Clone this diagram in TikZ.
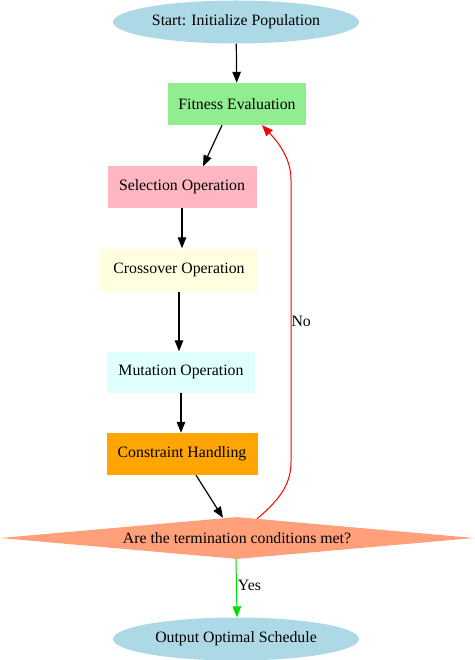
\documentclass[tikz,border=0pt]{standalone}
\usepackage{fontspec}
\setmainfont{Liberation Serif}
\usetikzlibrary{shapes.geometric,arrows.meta,calc}
\definecolor{lblue}{HTML}{ADD8E6}
\definecolor{lgreen}{HTML}{90EE90}
\definecolor{lpink}{HTML}{FFB6C1}
\definecolor{lyellow}{HTML}{FFFFE0}
\definecolor{lcyan}{HTML}{E0FFFF}
\definecolor{orng}{HTML}{FFA500}
\definecolor{lsalmon}{HTML}{FFA07A}
\definecolor{brgreen}{HTML}{00E000}
\begin{document}
\begin{tikzpicture}[x=1pt,y=-1pt,
  every node/.style={font=\fontsize{15.8}{19}\selectfont},
  termnode/.style={ellipse,fill=lblue,minimum width=246pt,minimum height=43pt,inner sep=0pt},
  procbox/.style={rectangle,minimum height=42pt,inner sep=0pt},
  edge/.style={draw=black,line width=1.2pt,-{Triangle[length=11pt,width=8.5pt]}},
  lbl/.style={inner sep=1pt,anchor=west}]
\useasboundingbox (0,0) rectangle (474,660);
\node[termnode] (start) at (236,22) {Start: Initialize Population};
\node[procbox,fill=lgreen,minimum width=138pt] (fit) at (237,104) {Fitness Evaluation};
\node[procbox,fill=lpink,minimum width=149pt,minimum height=41pt] (sel) at (182,187) {Selection Operation};
\node[procbox,fill=lyellow,minimum width=158pt,minimum height=43pt] (cro) at (179,270) {Crossover Operation};
\node[procbox,fill=lcyan,minimum width=148pt,minimum height=41pt] (mut) at (181,372) {Mutation Operation};
\node[procbox,fill=orng,minimum width=151pt] (con) at (182,454) {Constraint Handling};
\node[diamond,fill=lsalmon,shape aspect=11.3,minimum width=474pt,minimum height=42pt,inner sep=0pt] (dia) at (237,538) {Are the termination conditions met?};
\node[termnode] (out) at (236,639) {Output Optimal Schedule};

\draw[edge] (start) -- (fit);
\draw[edge] ($(fit.south)+(-15,0)$) -- ($(sel.north)+(21,0)$);
\draw[edge] (sel) -- (sel.south |- cro.north);
\draw[edge] (cro.south) -- (cro.south |- mut.north);
\draw[edge] (mut.south) -- (mut.south |- con.north);
\draw[edge] ($(con.south)+(14,0)$) -- ($(dia.north)+(-14,1)$);
\draw[edge,draw=brgreen,line width=1pt] ($(dia.south)+(-1,0)$) -- (out.north -| dia.south) node[lbl,pos=0.45] {Yes};
\coordinate (r1) at (291,462);
\coordinate (r2) at (291,180);
\draw[edge,draw=red,line width=1pt] ($(dia.north)+(20,2)$) .. controls (282,498) and (291,482) .. (r1) -- (r2)
  node[lbl,pos=0.5,inner sep=0pt] {No}
  .. controls (291,158) and (278,142) .. ($(fit.south)+(25,0)$);
\end{tikzpicture}
\end{document}
